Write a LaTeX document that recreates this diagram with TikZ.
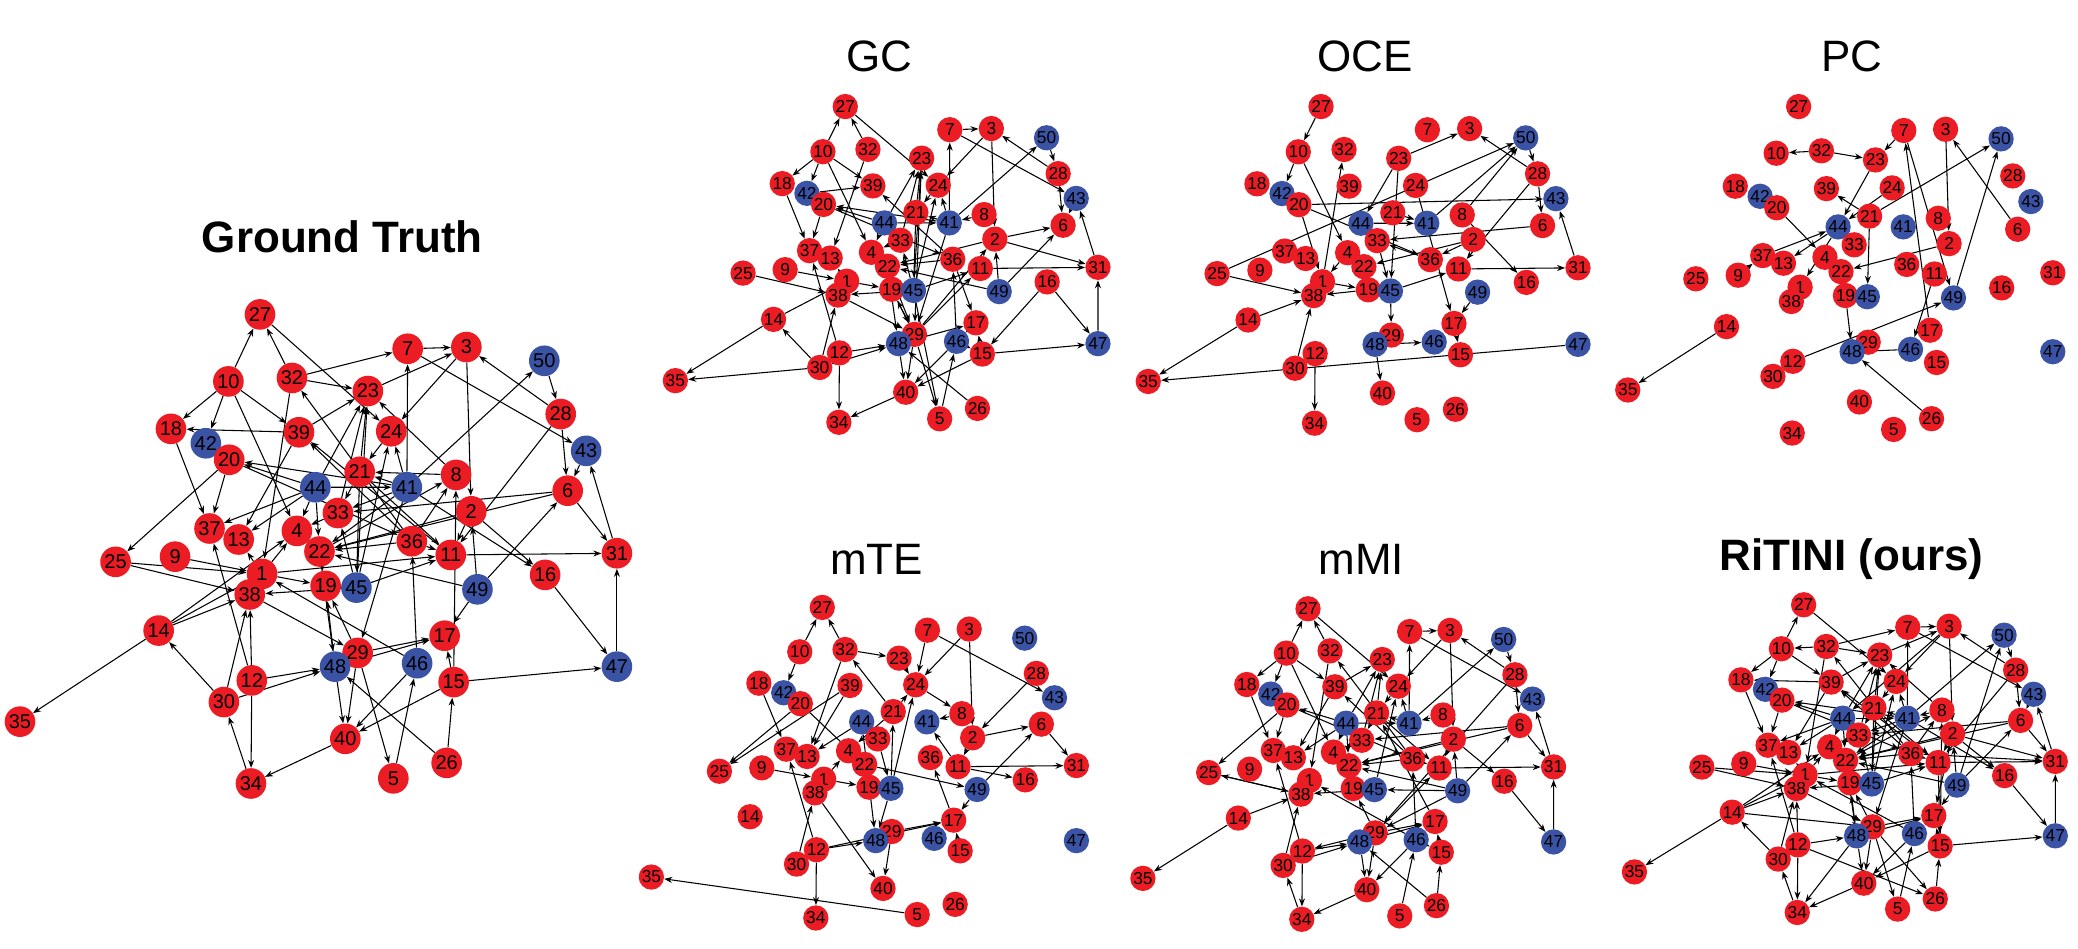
\documentclass[tikz,border=0pt]{standalone}
\usepackage{fontspec}
\setmainfont{Liberation Sans}
\usetikzlibrary{arrows.meta,backgrounds}
\definecolor{nred}{HTML}{EC1C24}
\definecolor{nblue}{HTML}{3A53A4}
\def\nodelist{27/640/90,7/1000/190,3/1143/185,50/1333/225,10/563/285,32/718/275,23/903/313,28/1373/380,18/423/423,39/735/433,24/960/430,42/508/465,43/1435/487,20/565/513,21/883/548,8/1118/557,44/775/593,41/998/593,6/1390/603,33/830/668,2/1155/663,37/517/713,13/588/745,4/730/720,22/785/780,36/1010/750,11/1105/790,31/1510/785,25/288/810,9/433/795,1/645/845,16/1335/848,19/800/880,45/875/885,49/1170/890,38/615/905,14/393/1010,17/1090/1025,29/878/1075,48/823/1115,46/1023/1105,47/1510/1115,15/1112/1160,12/620/1155,30/552/1218,35/55/1275,40/848/1325,26/1095/1395,5/965/1440,34/618/1455}
\def\gtedges{10/27,32/27,27/24,32/7,32/23,23/3,7/3,7/43,41/7,3/2,3/24,28/3,50/28,28/6,28/11,43/6,31/43,6/31,16/47,47/31,15/47,10/18,10/42,10/39,10/4,39/18,39/23,39/13,32/1,18/37,20/37,20/25,20/36,41/20,44/20,21/23,44/23,45/23,33/23,24/21,8/23,36/32,11/39,36/39,44/41,8/21,41/21,21/11,21/33,21/45,41/24,45/24,41/50,41/33,44/37,44/13,44/4,44/22,41/29,41/22,2/22,6/33,6/22,2/11,2/16,36/8,22/8,36/11,36/22,11/31,45/11,1/11,49/2,49/6,49/17,49/22,45/38,25/1,25/38,9/1,1/19,1/4,14/4,14/1,14/38,14/35,30/14,30/38,38/29,12/37,12/38,12/34,12/48,30/48,34/30,40/34,29/40,48/40,29/5,46/40,15/40,5/46,26/15,26/48,15/17,15/8,29/17,48/17,46/1,46/36,29/19,48/19,22/48,4/22,1/13,22/19,33/4,45/33,41/16}
\def\gcedges{10/27,32/27,27/24,7/3,7/43,41/7,3/2,3/24,28/3,50/28,28/6,43/6,31/43,16/47,47/31,15/47,10/18,10/42,10/39,10/4,42/39,32/13,18/37,20/37,20/36,41/20,44/20,21/23,44/23,45/23,33/23,24/21,36/39,44/41,8/41,41/21,21/45,41/24,45/24,41/50,44/4,41/29,2/22,2/6,2/31,36/22,11/31,45/11,49/2,49/6,49/22,16/15,45/38,25/38,9/1,1/19,14/1,30/35,14/35,30/14,30/38,38/29,12/37,12/34,12/48,30/48,40/34,29/40,48/40,29/5,46/40,15/40,5/46,26/48,15/17,48/17,46/36,29/19,22/48,1/13,33/4,45/33,29/2,29/11,36/17,17/46,19/29,45/5,23/29,22/29,46/15}
\def\oceedges{27/10,10/42,10/4,1/32,23/3,25/50,23/44,20/43,20/36,20/1,21/41,44/41,41/50,8/50,2/36,28/11,28/3,50/28,28/6,31/43,33/45,6/33,2/22,8/16,11/31,45/11,1/19,19/38,25/38,14/38,14/35,30/38,47/35,12/34,45/29,48/40,48/46,24/17,49/17,17/15,4/1,23/45,36/33}
\def\pcedges{32/10,32/23,7/23,23/44,21/39,24/44,21/50,20/4,44/13,37/44,44/1,9/37,21/45,19/48,12/49,46/48,26/48,17/7,7/49,49/50,3/2,6/3,2/22,11/46,14/35}
\def\mteedges{10/27,32/27,10/42,32/23,32/13,39/13,39/25,20/25,18/37,21/32,7/24,3/24,3/2,8/41,24/8,21/24,44/13,21/4,1/4,9/1,1/19,38/40,12/37,30/38,12/34,12/17,12/48,29/17,45/24,45/21,45/48,29/40,33/45,44/48,2/6,2/11,28/2,7/43,6/31,11/31,11/16,49/6,49/17,17/36,15/17,11/41,22/49,5/35,20/22,23/24}
\def\mmiedges{10/27,32/27,27/24,7/3,7/43,41/7,3/2,3/24,28/3,50/28,28/6,31/43,6/31,16/47,47/31,10/18,10/42,10/39,10/4,39/23,39/13,32/1,18/37,20/37,20/25,20/36,44/20,21/23,44/23,33/23,24/21,36/32,36/39,44/41,8/41,41/21,21/11,21/33,41/24,45/24,41/50,44/13,44/4,44/22,2/22,6/33,6/22,2/11,2/16,36/11,36/22,11/31,49/2,49/6,49/22,49/45,45/38,38/25,25/38,14/38,14/35,30/38,12/37,12/34,12/48,30/48,34/30,40/34,29/40,48/40,46/40,5/46,26/15,26/48,15/17,29/17,48/17,46/1,46/36,29/19,29/12,48/29,22/19,33/4,29/11,17/21,28/29,46/15,49/29}
\def\ritedges{10/27,27/24,32/7,32/23,32/10,23/3,7/3,7/43,41/7,3/2,3/24,3/44,28/3,50/28,28/6,28/11,43/6,31/43,6/31,16/47,47/31,15/47,10/18,10/42,10/39,39/18,39/23,39/13,32/1,18/37,20/37,20/36,41/20,44/20,21/23,44/23,45/23,33/23,24/21,8/23,36/32,11/39,36/39,44/41,8/41,41/21,21/11,21/33,21/45,41/24,45/24,41/50,49/50,41/33,44/37,44/13,44/4,44/22,41/29,41/22,2/22,6/33,6/22,2/11,2/16,2/31,36/8,22/8,36/11,36/22,36/31,11/31,45/11,1/11,49/2,49/6,49/17,49/22,45/38,25/1,25/38,9/1,1/19,1/4,14/4,14/1,14/38,14/35,30/14,30/38,38/29,12/37,12/38,12/34,12/48,12/26,14/29,34/30,40/34,29/40,48/40,29/5,46/40,15/40,5/46,26/15,29/26,15/17,15/8,29/17,48/17,46/1,46/36,29/19,48/19,22/48,48/34,4/22,1/13,22/19,33/4,45/33,41/16,11/15,2/17}
\newcommand\drawpanel[8]{%
\begin{scope}[shift={({#2-16.94*#4},{#3-23.2*#5})},xscale={0.308*#4},yscale={0.258*#5}]
\foreach \n/\xx/\yy in \nodelist {
 \ifnum\n>40 \def\cc{nblue}\else\def\cc{nred}\fi
 \node[circle,fill=\cc,inner sep=0pt,minimum size=#6,font=\fontsize{#7}{#7}\selectfont] (#1\n) at (\xx,\yy) {\n};
}
\begin{scope}[on background layer]
\foreach \a/\b in #8 { \draw[arr] (#1\a) -- (#1\b); }
\end{scope}
\end{scope}}
\begin{document}
\begin{tikzpicture}[x=1pt,y=-1pt,
  arr/.style={-{Stealth[length=6pt,width=4.5pt]},line width=0.8pt,black}]
\useasboundingbox (0,0) rectangle (1560,712);
\drawpanel{gt}{15}{236}{1}{1}{23pt}{15}{\gtedges}
\drawpanel{gc}{507}{80}{0.708}{0.673}{19pt}{13}{\gcedges}
\drawpanel{oce}{862}{80}{0.72}{0.675}{19pt}{13}{\oceedges}
\drawpanel{pc}{1222}{80}{0.712}{0.696}{19pt}{13}{\pcedges}
\drawpanel{mte}{489}{456}{0.712}{0.662}{19pt}{13}{\mteedges}
\drawpanel{mmi}{858}{457}{0.688}{0.662}{19pt}{13}{\mmiedges}
\drawpanel{rit}{1227}{454}{0.705}{0.656}{19pt}{13}{\ritedges}
\tikzset{ttl/.style={font=\fontsize{33}{36}\selectfont}}
\node[ttl,font=\fontsize{33}{36}\selectfont\bfseries] (tgt) at (257,178) {Ground Truth};
\node[ttl] (tgc) at (660,42) {GC};
\node[ttl] (toce) at (1025,42) {OCE};
\node[ttl] (tpc) at (1390,42) {PC};
\node[ttl] (tmte) at (658,420) {mTE};
\node[ttl] (tmmi) at (1022,420) {mMI};
\node[ttl,font=\fontsize{33}{36}\selectfont\bfseries] (trit) at (1390,420) {RiTINI (ours)};
\end{tikzpicture}
\end{document}
